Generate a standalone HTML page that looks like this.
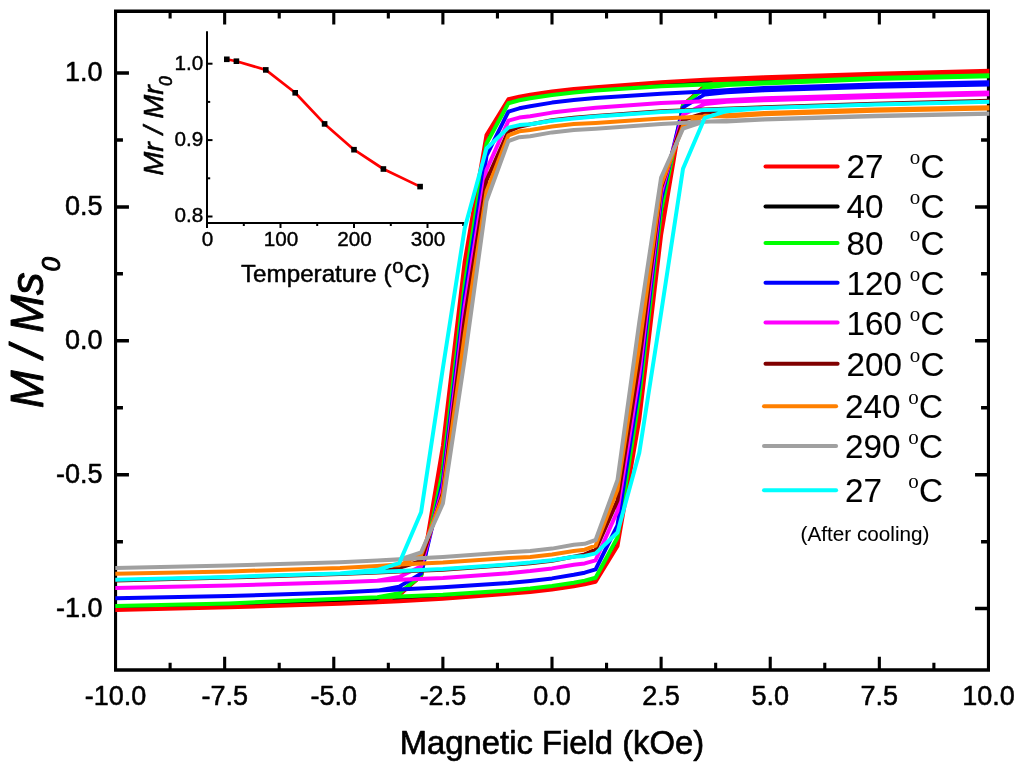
<!DOCTYPE html>
<html lang="en"><head><meta charset="utf-8"><title>M / Ms0 vs Magnetic Field</title>
<style>html,body{margin:0;padding:0;background:#fff}svg{display:block}text{font-family:"Liberation Sans",Arial,Helvetica,sans-serif;fill:#000;stroke:#000;stroke-width:.02em;stroke-linejoin:round}#legend text{stroke-width:.004em}.it{font-style:italic}.sf{font-family:"Liberation Serif","Times New Roman",serif;stroke:none}</style></head><body>
<svg width="1024" height="771" viewBox="0 0 1024 771">
<rect width="1024" height="771" fill="#fff"/>
<g id="inset" stroke="#000" stroke-width="2" fill="none">
<path d="M207.0 31.3V224.0"/>
<path d="M206.0 223.0H464.6"/>
<path d="M207.0 63.7h5.5"/>
<path d="M207.0 140.1h5.5"/>
<path d="M207.0 216.5h5.5"/>
<path d="M207.0 101.9h3.2"/>
<path d="M207.0 178.3h3.2"/>
<path d="M207.0 223.0v5"/>
<path d="M280.5 223.0v5"/>
<path d="M354.0 223.0v5"/>
<path d="M427.5 223.0v5"/>
<path d="M243.8 223.0v3"/>
<path d="M317.2 223.0v3"/>
<path d="M390.8 223.0v3"/>
<path d="M463.2 223.0v3"/>
</g>
<path d="M226.8 59.3 L236.4 61.2 L265.8 69.9 L295.2 92.8 L324.6 123.9 L354.0 149.7 L383.4 169.0 L420.1 186.6" stroke="#ff0000" stroke-width="2.7" fill="none" stroke-linejoin="round"/>
<rect x="224.0" y="56.5" width="5.6" height="5.6" fill="#000"/>
<rect x="233.6" y="58.4" width="5.6" height="5.6" fill="#000"/>
<rect x="263.0" y="67.1" width="5.6" height="5.6" fill="#000"/>
<rect x="292.4" y="90.0" width="5.6" height="5.6" fill="#000"/>
<rect x="321.8" y="121.1" width="5.6" height="5.6" fill="#000"/>
<rect x="351.2" y="146.9" width="5.6" height="5.6" fill="#000"/>
<rect x="380.6" y="166.2" width="5.6" height="5.6" fill="#000"/>
<rect x="417.3" y="183.8" width="5.6" height="5.6" fill="#000"/>
<text x="203.3" y="69.5" font-size="20.7" text-anchor="end">1.0</text>
<text x="203.3" y="145.9" font-size="20.7" text-anchor="end">0.9</text>
<text x="203.3" y="222.3" font-size="20.7" text-anchor="end">0.8</text>
<text x="207.4" y="245.8" font-size="20.7" text-anchor="middle">0</text>
<text x="280.9" y="245.8" font-size="20.7" text-anchor="middle">100</text>
<text x="354.4" y="245.8" font-size="20.7" text-anchor="middle">200</text>
<text x="427.9" y="245.8" font-size="20.7" text-anchor="middle">300</text>
<text x="241" y="282" font-size="24.2">Temperature (<tspan font-size="20" dy="-9" dx="0.8">o</tspan><tspan dy="9" dx="0.8">C)</tspan></text>
<text class="it" transform="translate(162.6 175.5) rotate(-90)" font-size="28.5">Mr / Mr<tspan font-size="17.5" dy="9.5" dx="-0.8">0</tspan></text>
<g id="frame" stroke="#000" fill="none">
<path stroke-width="3.5" d="M114.00 11.15H990.00 M114.00 670.05H990.00"/>
<path stroke-width="3.1" d="M115.55 11.15V670.05 M988.45 11.15V670.05"/>
<path stroke-width="3.1" d="M170.11 11.15v7.4 M170.11 670.05v-7.4 M224.66 11.15v13.4 M224.66 670.05v-13.4 M279.22 11.15v7.4 M279.22 670.05v-7.4 M333.78 11.15v13.4 M333.78 670.05v-13.4 M388.33 11.15v7.4 M388.33 670.05v-7.4 M442.89 11.15v13.4 M442.89 670.05v-13.4 M497.44 11.15v7.4 M497.44 670.05v-7.4 M552.00 11.15v13.4 M552.00 670.05v-13.4 M606.56 11.15v7.4 M606.56 670.05v-7.4 M661.11 11.15v13.4 M661.11 670.05v-13.4 M715.67 11.15v7.4 M715.67 670.05v-7.4 M770.23 11.15v13.4 M770.23 670.05v-13.4 M824.78 11.15v7.4 M824.78 670.05v-7.4 M879.34 11.15v13.4 M879.34 670.05v-13.4 M933.89 11.15v7.4 M933.89 670.05v-7.4"/>
<path stroke-width="3.5" d="M115.55 73.00h13.4 M988.45 73.00h-13.4 M115.55 139.95h7.4 M988.45 139.95h-7.4 M115.55 206.90h13.4 M988.45 206.90h-13.4 M115.55 273.85h7.4 M988.45 273.85h-7.4 M115.55 340.80h13.4 M988.45 340.80h-13.4 M115.55 407.75h7.4 M988.45 407.75h-7.4 M115.55 474.70h13.4 M988.45 474.70h-13.4 M115.55 541.65h7.4 M988.45 541.65h-7.4 M115.55 608.60h13.4 M988.45 608.60h-13.4"/>
</g>
<clipPath id="cp"><rect x="115.3" y="12" width="874.1" height="657"/></clipPath>
<g id="curves" clip-path="url(#cp)" fill="none" stroke-width="4" stroke-linejoin="round" stroke-linecap="square">
<path stroke="#000000" d="M988.5 73.0 L875.0 75.7 L764.0 79.8 L704.8 82.2 L661.1 84.2 L595.6 89.0 L573.8 90.8 L552.0 93.2 L530.2 96.6 L519.3 98.5 L508.4 101.2 L486.5 139.2 L464.7 273.1 L442.9 458.1 L421.1 575.7 L399.2 594.1 L377.4 599.7 L340.0 601.2 L229.0 605.4 L115.5 608.0 L115.5 608.0 L229.0 605.4 L340.0 601.2 L377.4 599.7 L399.2 598.9 L442.9 596.8 L508.4 592.0 L530.2 590.2 L552.0 587.9 L573.8 584.5 L584.7 582.5 L595.6 579.8 L617.5 541.8 L639.3 407.9 L661.1 222.9 L683.0 105.3 L704.8 86.9 L726.6 82.5 L764.0 81.0 L875.0 76.9 L988.5 74.2"/>
<path stroke="#ff0000" d="M988.5 70.9 L875.0 73.7 L764.0 77.3 L704.8 79.7 L661.1 82.3 L595.6 87.3 L573.8 89.0 L552.0 91.4 L530.2 94.8 L519.3 96.7 L508.4 99.2 L486.5 135.0 L464.7 261.6 L442.9 446.0 L421.1 575.8 L399.2 595.0 L377.4 602.2 L340.0 603.7 L229.0 607.3 L115.5 610.1 L115.5 610.1 L229.0 607.3 L340.0 603.7 L377.4 602.2 L399.2 601.3 L442.9 598.7 L508.4 593.7 L530.2 592.0 L552.0 589.6 L573.8 586.2 L584.7 584.3 L595.6 581.8 L617.5 546.0 L639.3 419.4 L661.1 235.0 L683.0 105.2 L704.8 86.0 L726.6 80.0 L764.0 78.5 L875.0 74.9 L988.5 72.1"/>
<path stroke="#00ff00" d="M988.5 75.3 L875.0 77.9 L764.0 82.5 L704.8 84.6 L661.1 86.2 L595.6 90.6 L573.8 92.5 L552.0 94.9 L530.2 98.3 L519.3 100.3 L508.4 103.2 L486.5 143.5 L464.7 284.5 L442.9 470.1 L421.1 575.6 L399.2 593.3 L377.4 597.3 L340.0 598.8 L229.0 603.4 L115.5 606.0 L115.5 606.0 L229.0 603.4 L340.0 598.8 L377.4 597.3 L399.2 596.4 L442.9 594.8 L508.4 590.4 L530.2 588.5 L552.0 586.1 L573.8 582.7 L584.7 580.6 L595.6 577.8 L617.5 537.5 L639.3 396.5 L661.1 210.9 L683.0 105.4 L704.8 87.7 L726.6 85.0 L764.0 83.5 L875.0 78.9 L988.5 76.3"/>
<path stroke="#0000ff" d="M988.5 82.3 L875.0 84.4 L764.0 88.0 L704.8 91.5 L661.1 93.8 L595.6 98.0 L573.8 100.1 L552.0 102.6 L530.2 106.2 L519.3 108.3 L508.4 111.6 L486.5 155.6 L464.7 296.9 L442.9 481.2 L421.1 573.6 L399.2 586.6 L377.4 590.6 L340.0 592.5 L229.0 596.1 L115.5 598.2 L115.5 598.2 L229.0 596.1 L340.0 592.5 L377.4 590.6 L399.2 589.5 L442.9 587.2 L508.4 583.0 L530.2 580.9 L552.0 578.4 L573.8 574.8 L584.7 572.7 L595.6 569.4 L617.5 525.4 L639.3 384.1 L661.1 199.8 L683.0 107.4 L704.8 94.4 L726.6 92.2 L764.0 90.3 L875.0 86.7 L988.5 84.6"/>
<path stroke="#ff00ff" d="M988.5 92.5 L875.0 95.0 L764.0 98.3 L704.8 101.2 L661.1 103.1 L595.6 107.8 L573.8 109.9 L552.0 112.6 L530.2 116.3 L519.3 117.6 L508.4 120.7 L486.5 170.0 L464.7 306.9 L442.9 487.7 L421.1 566.3 L399.2 577.0 L377.4 580.7 L340.0 582.2 L229.0 585.5 L115.5 588.0 L115.5 588.0 L229.0 585.5 L340.0 582.2 L377.4 580.7 L399.2 579.8 L442.9 577.9 L508.4 573.2 L530.2 571.1 L552.0 568.4 L573.8 564.7 L584.7 563.4 L595.6 560.3 L617.5 511.0 L639.3 374.1 L661.1 193.3 L683.0 114.7 L704.8 104.0 L726.6 101.7 L764.0 100.2 L875.0 96.9 L988.5 94.4"/>
<path stroke="#800000" d="M988.5 100.9 L875.0 103.8 L764.0 107.3 L704.8 109.4 L661.1 111.3 L595.6 115.9 L573.8 117.8 L552.0 120.2 L530.2 124.4 L519.3 126.7 L508.4 131.3 L486.5 180.5 L464.7 319.2 L442.9 493.2 L421.1 561.0 L399.2 567.9 L377.4 572.5 L340.0 574.0 L229.0 577.5 L115.5 580.4 L115.5 580.4 L229.0 577.5 L340.0 574.0 L377.4 572.5 L399.2 571.6 L442.9 569.7 L508.4 565.1 L530.2 563.2 L552.0 560.8 L573.8 556.6 L584.7 554.4 L595.6 549.7 L617.5 500.5 L639.3 361.8 L661.1 187.8 L683.0 120.0 L704.8 113.1 L726.6 109.0 L764.0 107.5 L875.0 104.0 L988.5 101.1"/>
<path stroke="#ff8000" d="M988.5 107.2 L875.0 109.6 L764.0 112.9 L704.8 116.4 L661.1 118.4 L595.6 122.9 L573.8 124.0 L552.0 126.5 L530.2 129.9 L519.3 131.3 L508.4 135.3 L486.5 191.5 L464.7 334.8 L442.9 496.0 L421.1 555.0 L399.2 565.3 L377.4 565.9 L340.0 568.1 L229.0 571.4 L115.5 573.8 L115.5 573.8 L229.0 571.4 L340.0 568.1 L377.4 565.9 L399.2 564.6 L442.9 562.6 L508.4 558.1 L530.2 557.0 L552.0 554.5 L573.8 551.1 L584.7 549.7 L595.6 545.7 L617.5 489.5 L639.3 346.2 L661.1 185.0 L683.0 126.0 L704.8 115.7 L726.6 116.4 L764.0 114.2 L875.0 110.8 L988.5 108.5"/>
<path stroke="#a0a0a0" d="M988.5 113.5 L875.0 115.8 L764.0 119.2 L704.8 121.7 L661.1 124.1 L595.6 128.8 L573.8 130.0 L552.0 132.4 L530.2 136.2 L519.3 137.2 L508.4 141.0 L486.5 201.0 L464.7 359.1 L442.9 503.5 L421.1 552.3 L399.2 559.6 L377.4 560.4 L340.0 562.2 L229.0 565.6 L115.5 567.9 L115.5 567.9 L229.0 565.6 L340.0 562.2 L377.4 560.4 L399.2 559.3 L442.9 556.9 L508.4 552.2 L530.2 551.0 L552.0 548.6 L573.8 544.8 L584.7 543.8 L595.6 540.0 L617.5 480.0 L639.3 321.9 L661.1 177.5 L683.0 128.7 L704.8 121.4 L726.6 121.4 L764.0 119.6 L875.0 116.2 L988.5 113.9"/>
<path stroke="#00ffff" d="M988.5 101.7 L875.0 104.6 L764.0 108.1 L704.8 110.0 L661.1 111.9 L595.6 116.5 L573.8 118.4 L552.0 120.8 L530.2 124.2 L519.3 125.1 L508.4 127.6 L486.5 148.5 L464.7 228.3 L442.9 368.0 L421.1 512.2 L399.2 563.2 L377.4 569.8 L340.0 573.4 L229.0 576.9 L115.5 579.8 L115.5 579.8 L229.0 576.9 L340.0 573.4 L399.2 571.0 L442.9 569.1 L508.4 564.5 L530.2 562.6 L552.0 560.2 L573.8 556.8 L584.7 555.9 L595.6 553.4 L617.5 532.5 L639.3 452.7 L661.1 313.0 L683.0 168.8 L704.8 117.8 L726.6 111.2 L764.0 108.1 L875.0 104.6 L988.5 101.7"/>
</g>
<text x="102.5" y="81.2" font-size="27" text-anchor="end">1.0</text>
<text x="102.5" y="215.1" font-size="27" text-anchor="end">0.5</text>
<text x="102.5" y="349.0" font-size="27" text-anchor="end">0.0</text>
<text x="102.5" y="482.9" font-size="27" text-anchor="end">-0.5</text>
<text x="102.5" y="616.8" font-size="27" text-anchor="end">-1.0</text>
<text x="115.5" y="704.5" font-size="27" text-anchor="middle">-10.0</text>
<text x="224.7" y="704.5" font-size="27" text-anchor="middle">-7.5</text>
<text x="333.8" y="704.5" font-size="27" text-anchor="middle">-5.0</text>
<text x="442.9" y="704.5" font-size="27" text-anchor="middle">-2.5</text>
<text x="552.0" y="704.5" font-size="27" text-anchor="middle">0.0</text>
<text x="661.1" y="704.5" font-size="27" text-anchor="middle">2.5</text>
<text x="770.2" y="704.5" font-size="27" text-anchor="middle">5.0</text>
<text x="879.3" y="704.5" font-size="27" text-anchor="middle">7.5</text>
<text x="988.5" y="704.5" font-size="27" text-anchor="middle">10.0</text>
<text x="552" y="754" font-size="32.8" text-anchor="middle">Magnetic Field (kOe)</text>
<text class="it" transform="translate(43.3 408.3) rotate(-90)" font-size="45.3">M / Ms<tspan font-size="26" dy="17" dx="1">0</tspan></text>
<g id="legend">
<path d="M765.5 166.6H837.6" stroke="#ff0000" stroke-width="4" stroke-linecap="round" fill="none"/>
<text x="846.6" y="178.0" font-size="33.2">27</text>
<text x="909.8" y="178.0" font-size="33.2"><tspan class="sf" font-size="21" dy="-14">o</tspan><tspan dy="14" dx="0.3">C</tspan></text>
<path d="M765.5 206.6H837.6" stroke="#000000" stroke-width="4" stroke-linecap="round" fill="none"/>
<text x="846.6" y="218.4" font-size="33.2">40</text>
<text x="909.8" y="218.4" font-size="33.2"><tspan class="sf" font-size="21" dy="-14">o</tspan><tspan dy="14" dx="0.3">C</tspan></text>
<path d="M765.5 243.1H837.6" stroke="#00ff00" stroke-width="4" stroke-linecap="round" fill="none"/>
<text x="846.6" y="255.4" font-size="33.2">80</text>
<text x="909.8" y="255.4" font-size="33.2"><tspan class="sf" font-size="21" dy="-14">o</tspan><tspan dy="14" dx="0.3">C</tspan></text>
<path d="M765.5 282.8H837.6" stroke="#0000ff" stroke-width="4" stroke-linecap="round" fill="none"/>
<text x="846.6" y="295.2" font-size="33.2">120</text>
<text x="909.8" y="295.2" font-size="33.2"><tspan class="sf" font-size="21" dy="-14">o</tspan><tspan dy="14" dx="0.3">C</tspan></text>
<path d="M765.5 322.6H837.6" stroke="#ff00ff" stroke-width="4" stroke-linecap="round" fill="none"/>
<text x="846.6" y="334.6" font-size="33.2">160</text>
<text x="909.8" y="334.6" font-size="33.2"><tspan class="sf" font-size="21" dy="-14">o</tspan><tspan dy="14" dx="0.3">C</tspan></text>
<path d="M765.5 363.7H837.6" stroke="#800000" stroke-width="4" stroke-linecap="round" fill="none"/>
<text x="846.6" y="376.1" font-size="33.2">200</text>
<text x="909.8" y="376.1" font-size="33.2"><tspan class="sf" font-size="21" dy="-14">o</tspan><tspan dy="14" dx="0.3">C</tspan></text>
<path d="M764.0 406.2H836.1" stroke="#ff8000" stroke-width="4" stroke-linecap="round" fill="none"/>
<text x="845.1" y="418.2" font-size="33.2">240</text>
<text x="908.3" y="418.2" font-size="33.2"><tspan class="sf" font-size="21" dy="-14">o</tspan><tspan dy="14" dx="0.3">C</tspan></text>
<path d="M764.0 445.9H836.1" stroke="#a0a0a0" stroke-width="4" stroke-linecap="round" fill="none"/>
<text x="845.1" y="457.9" font-size="33.2">290</text>
<text x="908.3" y="457.9" font-size="33.2"><tspan class="sf" font-size="21" dy="-14">o</tspan><tspan dy="14" dx="0.3">C</tspan></text>
<path d="M764.0 490.3H836.1" stroke="#00ffff" stroke-width="4" stroke-linecap="round" fill="none"/>
<text x="845.1" y="501.9" font-size="33.2">27</text>
<text x="908.3" y="501.9" font-size="33.2"><tspan class="sf" font-size="21" dy="-14">o</tspan><tspan dy="14" dx="0.3">C</tspan></text>
<text x="865" y="541.2" font-size="20.7" text-anchor="middle">(After cooling)</text>
</g>
</svg></body></html>
